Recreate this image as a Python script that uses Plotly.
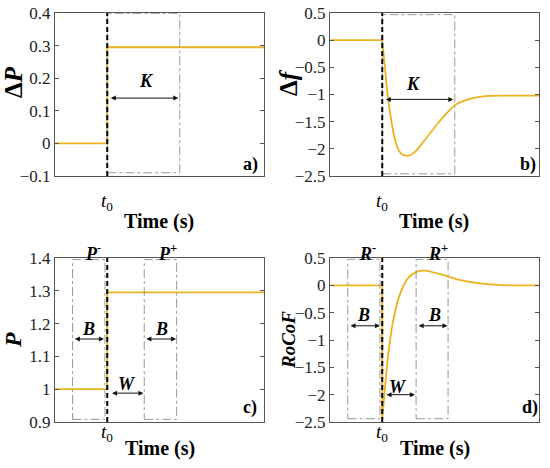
import plotly.graph_objects as go
from plotly.subplots import make_subplots

# ---- data ----
T0 = 2.5
t_end = 10

# a) power step
dp_t = [0, T0, T0, t_end]
dp_v = [0, 0, 0.295, 0.295]

# b) frequency deviation
df_pre_t = [0, T0]
df_pre_v = [0, 0]
df_t = [2.5, 2.64, 2.77, 2.93, 3.12, 3.38, 3.70, 4.05, 4.52, 5.08, 5.64, 5.96, 6.56, 7.41, 8.5, 10]
df_v = [0, -0.555, -1.047, -1.476, -1.845, -2.08, -2.13, -2.06, -1.845, -1.57, -1.32, -1.2, -1.095, -1.03, -1.02, -1.02]

# c) power
p_t = [0, T0, T0, t_end]
p_v = [1.0, 1.0, 1.295, 1.295]

# d) RoCoF
r_pre_t = [0, T0, T0]
r_pre_v = [0, 0, -2.445]
r_t = [2.5, 2.63, 2.79, 3.02, 3.34, 3.74, 4.14, 4.54, 5.34, 6.13, 7.41, 8.5, 10]
r_v = [-2.445, -1.87, -1.26, -0.65, -0.17, 0.136, 0.245, 0.27, 0.196, 0.105, 0.026, 0.0, 0.0]

# windows (K, B-, B+)
k_win = [2.5, 5.97]
bm_win = [0.84, 2.39]
bp_win = [4.2, 5.74]

y_ranges = {"a": [-0.1, 0.4], "b": [-2.5, 0.5], "c": [0.9, 1.4], "d": [-2.5, 0.5]}
y_ticks = {
    "a": [-0.1, 0, 0.1, 0.2, 0.3, 0.4],
    "b": [-2.5, -2, -1.5, -1, -0.5, 0, 0.5],
    "c": [0.9, 1, 1.1, 1.2, 1.3, 1.4],
    "d": [-2.5, -2, -1.5, -1, -0.5, 0, 0.5],
}

ORANGE = "#EDB120"
FONT = "'Liberation Serif', 'Times New Roman', serif"
W, H = 550, 468

def px_x(p):
    return p / W

def px_y(p):
    return 1 - p / H

fig = make_subplots(rows=2, cols=2)

def add_curve(t, v, row, col, spline=False):
    fig.add_trace(go.Scatter(
        x=t, y=v, mode="lines",
        line=dict(color=ORANGE, width=1.8, shape="spline" if spline else "linear", smoothing=0.9),
        showlegend=False, hoverinfo="skip"), row=row, col=col)

add_curve(dp_t, dp_v, 1, 1)
add_curve(df_pre_t, df_pre_v, 1, 2)
add_curve(df_t, df_v, 1, 2, spline=True)
add_curve(p_t, p_v, 2, 1)
add_curve(r_pre_t, r_pre_v, 2, 2)
add_curve(r_t, r_v, 2, 2, spline=True)

# axes placement (pixels -> paper)
xdom_l = [px_x(55), px_x(264)]
xdom_r = [px_x(330), px_x(539)]
ydom_t = [px_y(176), px_y(13)]
ydom_b = [px_y(422), px_y(258)]

panels = {
    "a": ("x", "y", xdom_l, ydom_t),
    "b": ("x2", "y2", xdom_r, ydom_t),
    "c": ("x3", "y3", xdom_l, ydom_b),
    "d": ("x4", "y4", xdom_r, ydom_b),
}

for key, (xa, ya, xd, yd) in panels.items():
    xname = "xaxis" + xa[1:]
    yname = "yaxis" + ya[1:]
    fig.layout[xname].update(
        domain=xd, range=[0, t_end], showticklabels=False, ticks="",
        showgrid=False, zeroline=False, showline=True, mirror=True, automargin=False,
        linecolor="#555", linewidth=1)
    fig.layout[yname].update(
        domain=yd, range=y_ranges[key], tickvals=y_ticks[key], automargin=False,
        ticklabeloverflow="allow",
        ticks="inside", ticklen=4, tickcolor="#555", mirror="ticks",
        showgrid=False, zeroline=False, showline=True, linecolor="#555", linewidth=1,
        tickfont=dict(family=FONT, size=17, color="#222"))

shapes = []
annots = []

def box(xa, ya, x0, x1, y0, y1):
    shapes.append(dict(type="rect", xref=xa, yref=ya, x0=x0, x1=x1, y0=y0, y1=y1,
                       line=dict(color="#999", width=1, dash="dashdot")))

def vline(xa, ya):
    shapes.append(dict(type="line", xref=xa, yref=ya + " domain", x0=T0, x1=T0, y0=0, y1=1,
                       line=dict(color="black", width=2, dash="5px,3px")))

def arrow(xa, ya, x0, x1, y):
    annots.append(dict(xref=xa, yref=ya, axref=xa, ayref=ya, x=x1, y=y, ax=x0, ay=y,
                       text="", showarrow=True, arrowside="end+start", arrowhead=2,
                       arrowsize=1, arrowwidth=1, arrowcolor="#111"))

def label(xa, ya, x, y, text, size=18):
    annots.append(dict(xref=xa, yref=ya, x=x, y=y, text=text, showarrow=False,
                       xanchor="center", yanchor="middle",
                       font=dict(family=FONT, size=size, color="black")))

def plabel(px, py, text, size=18, angle=0):
    annots.append(dict(xref="paper", yref="paper", x=px_x(px), y=px_y(py), text=text,
                       showarrow=False, textangle=angle, xanchor="center", yanchor="middle",
                       font=dict(family=FONT, size=size, color="black")))

# a)
box("x", "y", k_win[0], k_win[1], -0.09, 0.399)
vline("x", "y")
arrow("x", "y", 2.6, 5.9, 0.139)
label("x", "y", 4.4, 0.19, "<b><i>K</i></b>")

# b)
box("x2", "y2", k_win[0], k_win[1], -2.46, 0.47)
vline("x2", "y2")
arrow("x2", "y2", 2.6, 5.9, -1.09)
label("x2", "y2", 4.0, -0.8, "<b><i>K</i></b>")

# c)
box("x3", "y3", bm_win[0], bm_win[1], 0.908, 1.395)
box("x3", "y3", bp_win[0] + 0.07, bp_win[1] + 0.08, 0.908, 1.395)
vline("x3", "y3")
arrow("x3", "y3", 0.88, 2.34, 1.153)
arrow("x3", "y3", 4.3, 5.79, 1.153)
arrow("x3", "y3", 2.66, 4.23, 0.988)
label("x3", "y3", 1.6, 1.185, "<b><i>B</i></b>")
label("x3", "y3", 5.1, 1.185, "<b><i>B</i></b>")
label("x3", "y3", 3.43, 1.016, "<b><i>W</i></b>")
plabel(93, 252, "<b><i>P</i><sup>-</sup></b>")
plabel(167, 252, "<b><i>P</i><sup>+</sup></b>")

# d)
box("x4", "y4", bm_win[0] + 0.01, bm_win[1], -2.44, 0.475)
box("x4", "y4", bp_win[0] - 0.08, bp_win[1] - 0.09, -2.44, 0.475)
vline("x4", "y4")
arrow("x4", "y4", 0.91, 2.39, -0.74)
arrow("x4", "y4", 4.17, 5.62, -0.74)
arrow("x4", "y4", 2.63, 4.06, -2.0)
label("x4", "y4", 1.59, -0.545, "<b><i>B</i></b>")
label("x4", "y4", 4.98, -0.545, "<b><i>B</i></b>")
label("x4", "y4", 3.26, -1.86, "<b><i>W</i></b>")
plabel(367, 252, "<b><i>R</i><sup>-</sup></b>")
plabel(438, 252, "<b><i>R</i><sup>+</sup></b>")

# panel tags
plabel(250, 164, "<b>a)</b>", 18)
plabel(528, 164, "<b>b)</b>", 18)
plabel(250, 407, "<b>c)</b>", 18)
plabel(530, 407, "<b>d)</b>", 18)

# y titles
plabel(13, 82, "<b>Δ<i>P</i></b>", 25, -90)
plabel(288, 83, "<b>Δ<i>f</i></b>", 25, -90)
plabel(13, 340, "<b><i>P</i></b>", 24, -90)
plabel(288, 340, "<b><i>RoCoF</i></b>", 19, -90)

# t0 and time labels
t0_txt = "<i>t</i><sub>0</sub>"
plabel(107, 202, t0_txt, 19)
plabel(382, 202, t0_txt, 19)
plabel(107, 433, t0_txt, 19)
plabel(382, 433, t0_txt, 19)
plabel(159, 221, "<b>Time (s)</b>", 20)
plabel(434, 221, "<b>Time (s)</b>", 20)
plabel(160, 448, "<b>Time (s)</b>", 20)
plabel(435, 448, "<b>Time (s)</b>", 20)

fig.update_layout(
    width=W, height=H, margin=dict(l=0, r=0, t=0, b=0, autoexpand=False),
    paper_bgcolor="white", plot_bgcolor="white",
    shapes=shapes, annotations=annots, showlegend=False,
    font=dict(family=FONT),
)

# drop the default 8px page margin so the figure sits flush in the window
fig.write_html("out.html", config={"displayModeBar": False},
               post_script="document.body.style.margin='0px';")
